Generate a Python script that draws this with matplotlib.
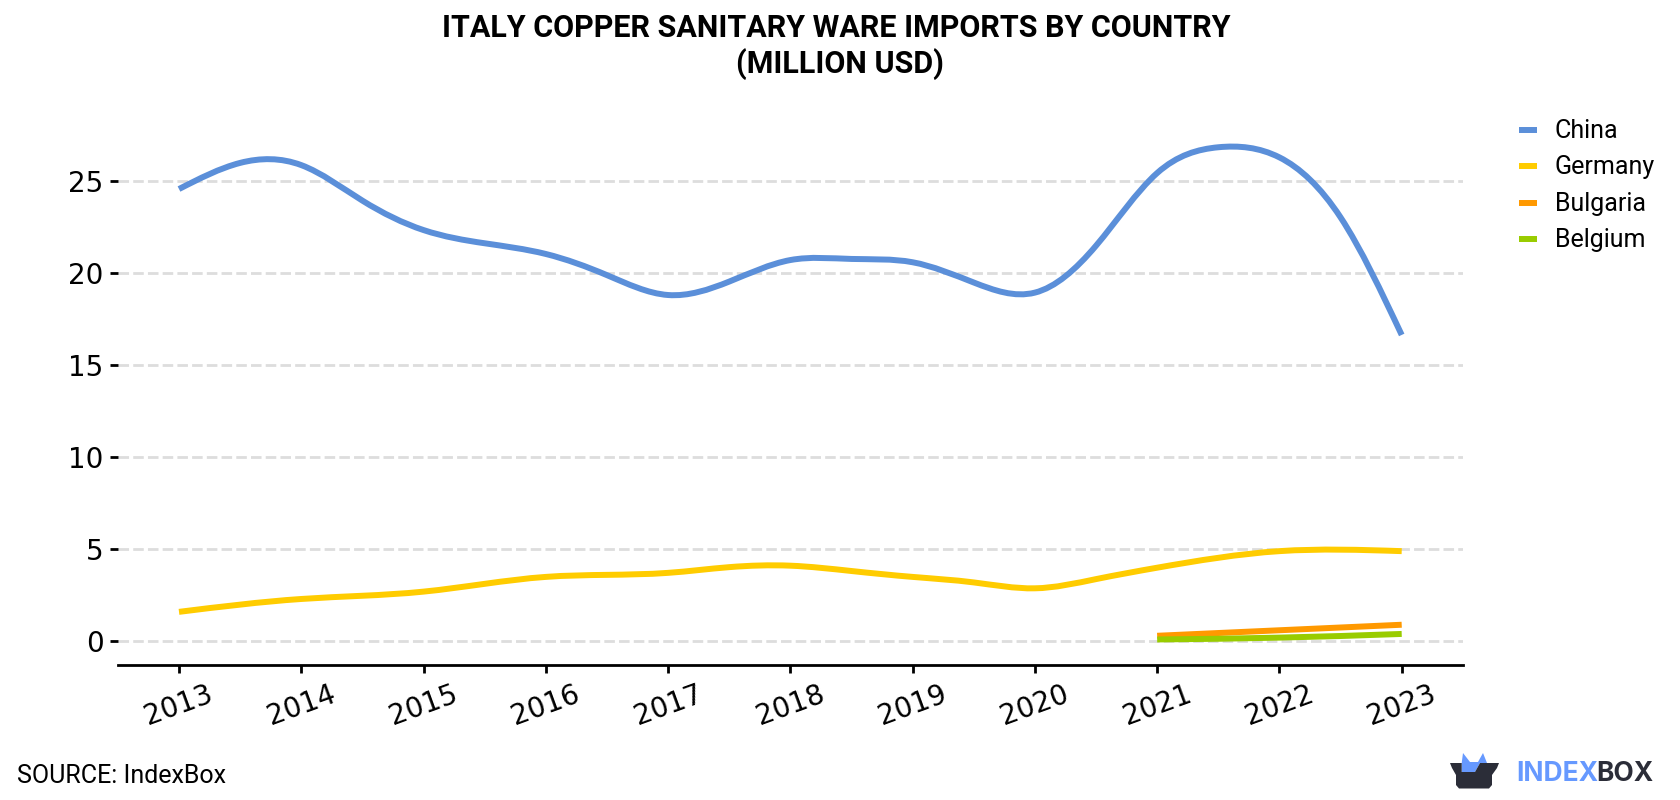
import numpy as np
import matplotlib
matplotlib.use("Agg")
import matplotlib.pyplot as plt
from matplotlib.path import Path
from matplotlib.patches import PathPatch, Polygon

years = [2013, 2014, 2015, 2016, 2017, 2018, 2019, 2020, 2021, 2022, 2023]

china_t = [2013, 2013.5, 2014, 2014.5, 2015, 2016, 2016.5, 2017, 2017.5, 2018,
           2018.5, 2019, 2019.5, 2020, 2020.5, 2021, 2021.5, 2022, 2022.5, 2023]
china = [24.58, 26.0, 25.88, 23.95, 22.35, 21.05, 19.9, 18.82, 19.55, 20.72,
         20.78, 20.6, 19.5, 18.95, 21.5, 25.45, 26.85, 26.3, 23.04, 16.65]

germany_t = [2013, 2014, 2015, 2016, 2017, 2017.5, 2018, 2018.5, 2019, 2019.5, 2020,
             2020.5, 2021, 2022, 2023]
germany = [1.6, 2.3, 2.7, 3.5, 3.72, 4.03, 4.11, 3.82, 3.5, 3.2, 2.88,
           3.38, 4.0, 4.9, 4.9]

bulgaria_t = [2021, 2022, 2023]
bulgaria = [0.3, 0.6, 0.9]
belgium_t = [2021, 2022, 2023]
belgium = [0.1, 0.2, 0.4]

names = ["China", "Germany", "Bulgaria", "Belgium"]
colors = ["#5B8FD9", "#FFCC00", "#FF9900", "#99CC00"]
y_ticks = [0, 5, 10, 15, 20, 25]


def smooth_path(x, y):
    """Bezier path through the given values with C2-continuous tangents."""
    x = np.asarray(x, float)
    y = np.asarray(y, float)
    n = len(x)
    h = np.diff(x)
    s = np.diff(y) / h
    A = np.zeros((n, n))
    b = np.zeros(n)
    A[0, 0], A[0, 1], b[0] = 2, 1, 3 * s[0]
    A[-1, -2], A[-1, -1], b[-1] = 1, 2, 3 * s[-1]
    for i in range(1, n - 1):
        A[i, i - 1] = h[i]
        A[i, i] = 2 * (h[i - 1] + h[i])
        A[i, i + 1] = h[i - 1]
        b[i] = 3 * (h[i] * s[i - 1] + h[i - 1] * s[i])
    d = np.linalg.solve(A, b)
    verts = [(x[0], y[0])]
    codes = [Path.MOVETO]
    for i in range(n - 1):
        t = h[i] / 3
        verts += [(x[i] + t, y[i] + d[i] * t),
                  (x[i + 1] - t, y[i + 1] - d[i + 1] * t),
                  (x[i + 1], y[i + 1])]
        codes += [Path.CURVE4] * 3
    return Path(verts, codes)


W, H = 1680, 800
fig = plt.figure(figsize=(W / 100, H / 100), dpi=100, facecolor="white")
ax = fig.add_axes([118 / W, 1 - 664.5 / H, (1463 - 118) / W, (664.5 - 100) / H])

px_per_year = (1401.7 - 179) / 10
ax.set_xlim(2013 - (179 - 118) / px_per_year, 2023 + (1463 - 1401.7) / px_per_year)
px_per_unit = 18.4
ax.set_ylim(-(664.5 - 641.3) / px_per_unit, (641.3 - 100) / px_per_unit)

series = [(china_t, china), (germany_t, germany), (bulgaria_t, bulgaria), (belgium_t, belgium)]
for (xs, ys), color in zip(series, colors):
    ax.add_patch(PathPatch(smooth_path(xs, ys), fill=False, edgecolor=color,
                           lw=4.3, capstyle="butt", joinstyle="round", zorder=3))

ax.set_xticks(years)
ax.set_yticks(y_ticks)
ax.tick_params(axis="x", length=5.5, width=2, labelsize=20, pad=6, labelrotation=20)
ax.tick_params(axis="y", length=5.5, width=2, labelsize=20, pad=5)
ax.grid(axis="y", color="#DDDDDD", lw=2, dashes=(3.8, 1.5))
ax.set_axisbelow(True)
for side in ("top", "right", "left"):
    ax.spines[side].set_visible(False)
ax.spines["bottom"].set_linewidth(2)

fig.text(836 / W, 1 - 28 / H, "ITALY COPPER SANITARY WARE IMPORTS BY COUNTRY",
         family="Roboto", weight="bold", fontsize=22, ha="center", va="center")
fig.text(840 / W, 1 - 64 / H, "(MILLION USD)",
         family="Roboto", weight="bold", fontsize=22, ha="center", va="center")

# Legend drawn by hand so rows sit at even spacing
for i, (name, color) in enumerate(zip(names, colors)):
    y = 1 - (129.5 + i * 36.6) / H
    fig.add_artist(plt.Line2D([1519 / W, 1537 / W], [y, y], color=color, lw=4.3,
                              solid_capstyle="butt"))
    fig.text(1555 / W, y - 1.2 / H, name, family="Roboto", fontsize=18, va="center", ha="left")

fig.text(17 / W, 1 - 776 / H, "SOURCE: IndexBox", family="Roboto", fontsize=18,
         va="center", ha="left")

# Brand mark in the lower right corner
fig.text(1516 / W, 1 - 774 / H, "INDEX", family="Inter", weight="bold", fontsize=19,
         color="#6699FF", va="center", ha="left")
fig.text(1596 / W, 1 - 774 / H, "BOX", family="Inter", weight="bold", fontsize=19,
         color="#2B2D38", va="center", ha="left")


def fig_poly(pts, color):
    fig.add_artist(Polygon([(px / W, 1 - py / H) for px, py in pts], closed=True,
                           transform=fig.transFigure, fc=color, ec="none"))


fig_poly([(1461.7, 763), (1463, 753), (1470, 762), (1478, 762), (1483, 753), (1487, 763),
          (1480, 763), (1475, 772), (1461.7, 772)], "#6699FF")
fig_poly([(1450, 763), (1461.7, 763), (1461.7, 772), (1475, 772), (1480, 763), (1499, 763),
          (1497, 768), (1492, 775), (1492, 785), (1489, 788.5), (1459, 788.5), (1456, 785),
          (1456, 775), (1452, 768)], "#2B2D38")

fig.savefig("out.png", dpi=100)
